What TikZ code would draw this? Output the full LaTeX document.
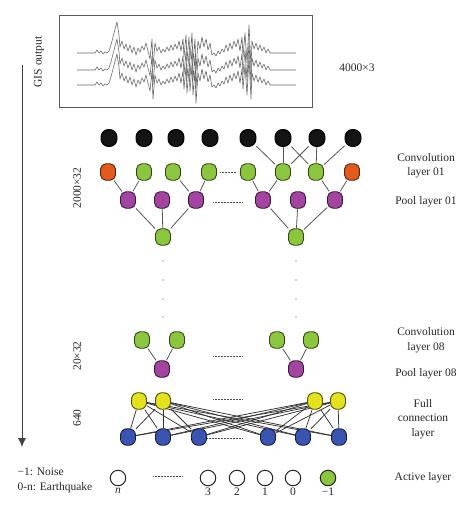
\documentclass[tikz,border=0pt]{standalone}
\usepackage{fontspec}
\setmainfont{Liberation Serif}
\usepackage{xcolor}
\usepackage{tikz}
\usetikzlibrary{arrows.meta,positioning,backgrounds,calc}

\definecolor{convgreen}{RGB}{140,198,63}
\definecolor{edgeorange}{RGB}{226,90,30}
\definecolor{poolpurple}{RGB}{163,68,160}
\definecolor{fcyellow}{RGB}{226,226,30}
\definecolor{fcblue}{RGB}{58,84,178}
\definecolor{linkgray}{RGB}{85,85,85}

\tikzset{
	unit/.style={rectangle,rounded corners=5.5pt,minimum width=15pt,minimum height=16.5pt,inner sep=0pt,line width=0.9pt},
	blk/.style={unit,fill=black!92,draw=black,minimum width=16pt,minimum height=17pt,rounded corners=7.5pt},
	grn/.style={unit,fill=convgreen,draw=convgreen!35!black},
	org/.style={unit,fill=edgeorange,draw=edgeorange!35!black},
	pur/.style={unit,fill=poolpurple,draw=poolpurple!35!black},
	ylw/.style={unit,fill=fcyellow,draw=fcyellow!35!black,rounded corners=6.5pt},
	blu/.style={unit,fill=fcblue,draw=fcblue!35!black,rounded corners=6.5pt},
	actnode/.style={circle,draw=black!85,line width=1pt,minimum size=15.5pt,inner sep=0pt,fill=white},
	link/.style={draw=linkgray,line width=0.8pt},
	dotrow/.style={black!70,line width=0.6pt,dash pattern=on 0.5pt off 1pt},
	lbl/.style={align=center},
	wave/.style={draw=black!60,line width=0.6pt,line join=round}
}

\begin{document}
\begin{tikzpicture}[x=1pt,y=-1pt,every node/.style={font=\fontsize{11.5}{14.5}\selectfont,text=black!85}]
		\useasboundingbox (0,0) rectangle (474,519);
		% GIS output box and the three traces
		\draw[black!65,line width=1pt] (59,16) rectangle (312,107);
		\foreach \yo in {53,70,85}
		\draw[wave,shift={(0,\yo)}] (77,0) -- (95,0) -- (97,-3) -- (99,0) -- (101,-2) -- (103,1) -- (105,-1) -- (107,0) -- (109,-2) -- (111,-8) -- (114,-20) -- (117,-31) -- (119,-18) -- (120,-6) -- (122,-12) -- (124,-4) -- (126,-9) -- (128,-2) -- (130,-8) -- (132,0) -- (134,-6) -- (136,2) -- (138,-5) -- (140,-1) -- (142,-7) -- (144,-3) -- (146,-10) -- (148,-2) -- (150,6) -- (152,-14) -- (153,14) -- (155,-10) -- (157,-2) -- (159,-6) -- (161,0) -- (163,-4) -- (165,-1) -- (167,-6) -- (169,-2) -- (171,-8) -- (173,-3) -- (175,-9) -- (177,-4) -- (179,-12) -- (181,-2) -- (183,-14) -- (184,4) -- (186,-18) -- (187,8) -- (189,-16) -- (190,6) -- (192,-20) -- (193,10) -- (195,-14) -- (196,18) -- (198,-12) -- (200,-4) -- (202,-16) -- (204,-6) -- (206,-14) -- (208,-3) -- (210,-10) -- (212,2) -- (214,0) -- (216,3) -- (218,-2) -- (220,1) -- (222,-4) -- (224,-1) -- (226,-8) -- (228,-2) -- (230,-10) -- (232,-4) -- (234,-12) -- (236,-6) -- (238,-14) -- (240,-2) -- (242,-16) -- (243,4) -- (245,-20) -- (247,10) -- (249,-28) -- (251,14) -- (252,-12) -- (254,-4) -- (256,-10) -- (258,-3) -- (260,-8) -- (262,-2) -- (264,-6) -- (266,0) -- (268,-4) -- (270,0) -- (296,0);
		\node (size0) at (357,68) {4000×3};
		
		% time axis on the left
		\coordinate (axtop) at (22,65);
		\coordinate (axbot) at (22,447);
		\draw[-{Latex[length=9pt,width=8pt]},black!75,line width=0.8pt] (axtop) -- (axbot);
		\node[rotate=90] (gis) at (39,62) {GIS output};
		\node[rotate=90] (size1) at (77,188) {2000×32};
		\node[rotate=90] (size2) at (77,356) {20×32};
		\node[rotate=90] (size3) at (77,418) {640};
		
		% input units
		\foreach \x [count=\i] in {109,144,176,210,248,283,317,353}
		\node[blk] (b\i) at (\x,138) {};
		
		% convolution layer 01
		\node[org] (c1) at (108,172) {};
		\foreach \x [count=\i from 2] in {144,173,209,248,283,316}
		\node[grn] (c\i) at (\x,172) {};
		\node[org] (c8) at (352,172) {};
		\draw[dotrow] (220,172) -- (236,172);
		
		% pool layer 01
		\foreach \x [count=\i] in {128,162,196,263,298,335}
		\node[pur] (p\i) at (\x,200) {};
		\draw[dotrow] (213,202) -- (243,202);
		\node[grn] (g1) at (163,237) {};
		\node[grn] (g2) at (296,237) {};
		
		% skipped layers
		\foreach \y in {261,280,299,317} {
			\fill[black!70] (163,\y) circle[radius=0.7pt];
			\fill[black!70] (296,\y) circle[radius=0.7pt];
		}
		
		% convolution and pool layer 08
		\foreach \x [count=\i] in {142,177,277,311}
		\node[grn] (d\i) at (\x,340) {};
		\node[pur] (q1) at (162,369) {};
		\node[pur] (q2) at (296,369) {};
		\draw[dotrow] (213,356) -- (243,356);
		
		% full connection layer
		\foreach \x [count=\i] in {139,163,315,338}
		\node[ylw] (y\i) at (\x,401) {};
		\foreach \x [count=\i] in {128,163,199,268,303,339}
		\node[blu] (u\i) at (\x,437) {};
		\draw[dotrow] (213,399) -- (243,399);
		\draw[dotrow] (207,438) -- (243,438);
		
		% active layer
		\foreach \x [count=\i] in {118,208,237,265,293}
		\node[actnode] (a\i) at (\x,478) {};
		\node[actnode,fill=convgreen] (a6) at (328,478) {};
		\draw[dotrow] (153,476) -- (182,476);
		\foreach \t [count=\i] in {\textit{n},3,2,1,0,−1}
		\node (n\i) at ($(a\i.south)+(0,5)$) {\t};
		
		% connections
		\begin{scope}[on background layer]
			\foreach \a/\b in {c1/p1,c2/p1,c3/p3,c4/p3,c5/p4,c6/p4,c7/p6,c8/p6,p1/g1,p2/g1,p3/g1,p4/g2,p5/g2,p6/g2,b5/c6,b6/c6,b6/c7,b7/c6,b7/c7,b8/c7,d1/q1,d2/q1,d3/q2,d4/q2}
			\draw[link] (\a) -- (\b);
			\foreach \i in {1,...,4}
			\foreach \j in {1,...,6}
			\draw[link,line width=0.75pt,draw=black!80] (y\i) -- (u\j);
		\end{scope}
		
		% layer names
		\node[lbl] (lconv1) at (426,166) {Convolution\\layer 01};
		\node[lbl] (lpool1) at (426,202) {Pool layer 01};
		\node[lbl] (lconv8) at (426,340) {Convolution\\layer 08};
		\node[lbl] (lpool8) at (426,374) {Pool layer 08};
		\node[lbl] (lfull) at (423,419) {Full\\connection\\layer};
		\node[lbl] (lact) at (423,478) {Active layer};
		\node[anchor=west] (noise) at (14,472) {−1: Noise};
		\node[anchor=west] (quake) at (14,488) {0-n: Earthquake};
	\end{tikzpicture}
\end{document}
